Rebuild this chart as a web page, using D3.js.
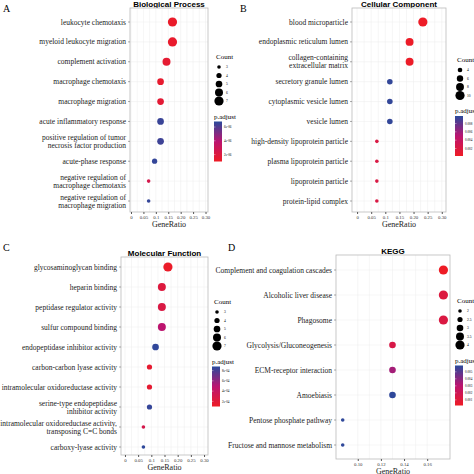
<!DOCTYPE html>
<html><head><meta charset="utf-8">
<script src="https://cdn.jsdelivr.net/npm/d3@7"></script>
<style>body{margin:0;background:#fff}</style>
</head><body>
<svg id="chart" width="474" height="474"></svg>
<script>
let bpTerms = ['leukocyte chemotaxis','myeloid leukocyte migration','complement activation','macrophage chemotaxis','macrophage migration','acute inflammatory response','positive regulation of tumor|necrosis factor production','acute-phase response','negative regulation of|macrophage chemotaxis','negative regulation of|macrophage migration'];
let bpRatio = [0.167,0.167,0.143,0.119,0.119,0.119,0.119,0.095,0.071,0.071];
let bpCount = [7,7,6,5,5,5,5,4,3,3];
let bpPadj = [1.2e-6,1.3e-6,1.5e-6,1.4e-6,1.6e-6,6.5e-6,6.4e-6,6.6e-6,2.5e-6,6.6e-6];

let ccTerms = ['blood microparticle','endoplasmic reticulum lumen','collagen-containing|extracellular matrix','secretory granule lumen','cytoplasmic vesicle lumen','vesicle lumen','high-density lipoprotein particle','plasma lipoprotein particle','lipoprotein particle','protein-lipid complex'];
let ccRatio = [0.233,0.186,0.186,0.116,0.116,0.116,0.07,0.07,0.07,0.07];
let ccCount = [10,8,8,5,5,5,3,3,3,3];
let ccPadj = [0.0003,0.0004,0.0004,0.0095,0.0095,0.0095,0.0022,0.0022,0.0022,0.0022];

let mfTerms = ['glycosaminoglycan binding','heparin binding','peptidase regulator activity','sulfur compound binding','endopeptidase inhibitor activity','carbon-carbon lyase activity','intramolecular oxidoreductase activity','serine-type endopeptidase|inhibitor activity','intramolecular oxidoreductase activity,|transposing C=C bonds','carboxy-lyase activity'];
let mfRatio = [0.163,0.14,0.14,0.14,0.116,0.093,0.093,0.093,0.07,0.07];
let mfCount = [7,6,6,6,5,4,4,4,3,3];
let mfPadj = [1.2e-4,2.3e-4,2.6e-4,4.8e-4,8.6e-4,1.6e-4,1.7e-4,8.5e-4,3.0e-4,8.7e-4];

let keggTerms = ['Complement and coagulation cascades','Alcoholic liver disease','Phagosome','Glycolysis/Gluconeogenesis','ECM-receptor interaction','Amoebiasis','Pentose phosphate pathway','Fructose and mannose metabolism'];
let keggRatio = [0.174,0.174,0.174,0.13,0.13,0.13,0.087,0.087];
let keggCount = [4,4,4,3,3,3,2,2];
let keggPadj = [0.0002,0.0012,0.0013,0.0015,0.0035,0.0058,0.0058,0.0058];

let svg = d3.select('#chart');
let serif = 'Liberation Serif, Times New Roman, serif';

let panels = [
  {letter:'A', lx:3, ly:12, title:'Biological Process', terms:bpTerms, ratio:bpRatio, count:bpCount, padj:bpPadj,
   box:[130,8,208,212], dom:[-0.004,0.31], ticks:[0,0.05,0.1,0.15,0.2,0.25,0.3], tfmt:['0','0.05','0.1','0.15','0.20','0.25','0.30'],
   rows:[22,201], sizeDom:[3,7], legCounts:[3,4,5,6,7], legX:214, legY:59, padjDom:[1e-6,6.8e-6], padjTicks:[2e-6,4e-6,6e-6], pfmt:['2e-06','4e-06','6e-06']},
  {letter:'B', lx:240, ly:12, title:'Cellular Component', terms:ccTerms, ratio:ccRatio, count:ccCount, padj:ccPadj,
   box:[352,8,446,212], dom:[-0.018,0.315], ticks:[0,0.05,0.1,0.15,0.2,0.25,0.3], tfmt:['0','0.05','0.1','0.15','0.20','0.25','0.30'],
   rows:[22,201], sizeDom:[3,10], legCounts:[4,6,8,10], legX:455, legY:62, padjDom:[0.0002,0.0098], padjTicks:[0.002,0.004,0.006,0.008], pfmt:['0.002','0.004','0.006','0.008']},
  {letter:'C', lx:3, ly:251, title:'Molecular Function', terms:mfTerms, ratio:mfRatio, count:mfCount, padj:mfPadj,
   box:[121,257,208,455], dom:[-0.015,0.315], ticks:[0,0.05,0.1,0.15,0.2,0.25,0.3], tfmt:['0','0.05','0.1','0.15','0.20','0.25','0.30'],
   rows:[267,447], sizeDom:[3,7], legCounts:[3,4,5,6,7], legX:212, legY:304, padjDom:[1e-4,8.8e-4], padjTicks:[2e-4,4e-4,6e-4,8e-4], pfmt:['2e-04','4e-04','6e-04','8e-04']},
  {letter:'D', lx:228, ly:251, title:'KEGG', terms:keggTerms, ratio:keggRatio, count:keggCount, padj:keggPadj,
   box:[336,255,450,459], dom:[0.0812,0.1797], ticks:[0.1,0.12,0.14,0.16], tfmt:['0.10','0.12','0.14','0.16'],
   rows:[270,445], sizeDom:[2,4], legCounts:[2,2.5,3,3.5,4], legX:455, legY:303, padjDom:[0.0002,0.0059], padjTicks:[0.001,0.002,0.003,0.004,0.005], pfmt:['0.001','0.002','0.003','0.004','0.005']}
];

panels.forEach(p => {
  let [x0,y0,x1,y1] = p.box;
  let g = svg.append('g');
  let x = d3.scaleLinear().domain(p.dom).range([x0,x1]);
  let y = d3.scalePoint().domain(d3.range(p.terms.length)).range(p.rows);
  let r = d3.scaleSqrt().domain(p.sizeDom).range([1.8,4.6]);
  let col = d3.scaleLinear().domain([p.padjDom[0], (p.padjDom[0]+p.padjDom[1])/2, p.padjDom[1]])
    .range(['#ee1c25','#bb1470','#2a4a9c']).interpolate(d3.interpolateRgb);

  svg.append('text').attr('x',p.lx).attr('y',p.ly).attr('font-family',serif).attr('font-size',10).text(p.letter);
  g.append('text').attr('x',(x0+x1)/2).attr('y',y0-1.5).attr('text-anchor','middle')
    .attr('font-family','Liberation Sans, Arial, sans-serif').attr('font-weight','bold').attr('font-size',8).text(p.title);

  g.append('rect').attr('x',x0).attr('y',y0).attr('width',x1-x0).attr('height',y1-y0).attr('fill','#fff');
  // grid
  let minor = [];
  for (let i=0;i<p.ticks.length-1;i++) minor.push((p.ticks[i]+p.ticks[i+1])/2);
  g.selectAll('.gv').data(p.ticks.concat(minor)).join('line')
    .attr('x1',d=>x(d)).attr('x2',d=>x(d)).attr('y1',y0).attr('y2',y1).attr('stroke','#ececec').attr('stroke-width',0.5);
  g.selectAll('.gh').data(d3.range(p.terms.length)).join('line')
    .attr('x1',x0).attr('x2',x1).attr('y1',d=>y(d)).attr('y2',d=>y(d)).attr('stroke','#ececec').attr('stroke-width',0.5);
  g.append('rect').attr('x',x0).attr('y',y0).attr('width',x1-x0).attr('height',y1-y0)
    .attr('fill','none').attr('stroke','#bbb').attr('stroke-width',0.8);

  // x axis
  let xa = g.append('g').attr('transform',`translate(0,${y1})`)
    .call(d3.axisBottom(x).tickValues(p.ticks).tickFormat((d,i)=>p.tfmt[i]).tickSize(2).tickPadding(2));
  xa.select('.domain').remove();
  xa.selectAll('line').attr('stroke','#555');
  xa.selectAll('text').attr('font-family',serif).attr('font-size',4.8).attr('fill','#333');
  g.append('text').attr('x',(x0+x1)/2).attr('y',y1+14.5).attr('text-anchor','middle')
    .attr('font-family',serif).attr('font-size',8).attr('fill','#222').text('GeneRatio');

  // y labels
  p.terms.forEach((t,i) => {
    g.append('line').attr('x1',x0-2).attr('x2',x0).attr('y1',y(i)).attr('y2',y(i)).attr('stroke','#555').attr('stroke-width',0.5);
    let parts = t.split('|');
    let tx = g.append('text').attr('x',x0-4).attr('text-anchor','end')
      .attr('font-family',serif).attr('font-size',7.5).attr('fill','#222');
    parts.forEach((s,k) => {
      tx.append('tspan').attr('x',x0-4)
        .attr('y', y(i) + 2.6 + (k - (parts.length-1)/2) * 8.2).text(s);
    });
  });

  // dots
  g.selectAll('.dot').data(p.terms.map((t,i)=>i)).join('circle')
    .attr('cx',i=>x(p.ratio[i])).attr('cy',i=>y(i)).attr('r',i=>r(p.count[i])).attr('fill',i=>col(p.padj[i]));

  // count legend
  let lg = svg.append('g');
  lg.append('text').attr('x',p.legX+2).attr('y',p.legY).attr('font-family',serif).attr('font-size',7).text('Count');
  p.legCounts.forEach((c,k) => {
    let cy = p.legY + 8 + k*8.5;
    lg.append('circle').attr('cx',p.legX+5).attr('cy',cy).attr('r',r(c)).attr('fill','#000');
    lg.append('text').attr('x',p.legX+12).attr('y',cy+1.3).attr('font-size',3.6).attr('font-family',serif).text(c);
  });
  // colour bar
  let cbY = p.legY + 8 + p.legCounts.length*8.5 + 12;
  lg.append('text').attr('x',p.legX).attr('y',cbY-3).attr('font-family',serif).attr('font-size',7).text('p.adjust');
  let cbH = 40, cbW = 8;
  let cy = d3.scaleLinear().domain(p.padjDom).range([cbY+cbH, cbY]);
  let gid = 'grad' + p.letter;
  let grad = svg.append('defs').append('linearGradient').attr('id',gid).attr('x1',0).attr('y1',1).attr('x2',0).attr('y2',0);
  d3.range(0,1.01,0.1).forEach(t => grad.append('stop').attr('offset',t)
    .attr('stop-color',col(p.padjDom[0]+t*(p.padjDom[1]-p.padjDom[0]))));
  lg.append('rect').attr('x',p.legX).attr('y',cbY).attr('width',cbW).attr('height',cbH).attr('fill',`url(#${gid})`);
  p.padjTicks.forEach((v,k) => {
    lg.append('line').attr('x1',p.legX).attr('x2',p.legX+1.5).attr('y1',cy(v)).attr('y2',cy(v)).attr('stroke','#fff').attr('stroke-width',0.4);
    lg.append('text').attr('x',p.legX+cbW+2).attr('y',cy(v)+1.2).attr('font-size',3.3).attr('font-family',serif).text(p.pfmt[k]);
  });
});
</script>
</body></html>
